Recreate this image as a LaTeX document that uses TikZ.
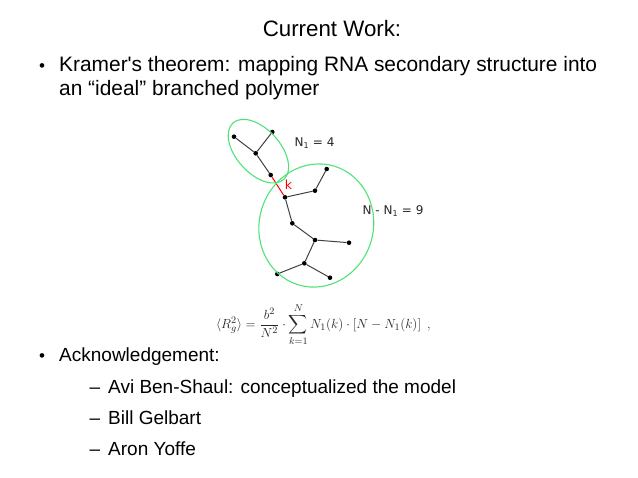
\documentclass[tikz,border=0pt]{standalone}
\usepackage{fontspec}
\usepackage{amsmath}
\setmainfont{Liberation Sans}
\newfontfamily\labelfont{DejaVu Sans}
\definecolor{loopgreen}{RGB}{80,226,120}

\begin{document}
\begin{tikzpicture}[x=1pt,y=-1pt,
  bead/.style={circle,fill=black,inner sep=0pt,minimum size=4.6pt},
  bond/.style={draw=black!75,line width=1pt},
  ring/.style={draw=loopgreen,line width=1.1pt},
  treelabel/.style={font=\labelfont\fontsize{12}{14}\selectfont,text=black!85,inner sep=0pt},
  maintext/.style={anchor=base west,inner sep=0pt,font=\fontsize{20.9}{24}\selectfont},
  subtext/.style={anchor=base west,inner sep=0pt,font=\fontsize{19}{23}\selectfont},
  bulletmark/.style={anchor=base,inner sep=0pt}]
  \useasboundingbox (0,0) rectangle (638,478);

  \node[anchor=base,inner sep=0pt,font=\fontsize{22.3}{26}\selectfont] (title) at (332,36.5) {Current Work:};

  \node[bulletmark,font=\fontsize{17}{18}\selectfont] (b1) at (42,71.5) {•};
  \node[maintext] (kramer) at (59,71.5) {Kramer\textquotesingle s theorem: mapping RNA secondary structure into};
  \node[maintext] (kramer2) at (59,96) {an “ideal” branched polymer};

  % tree
  \node[bead] (a1) at (234,136.7) {};
  \node[bead] (a2) at (272.3,132) {};
  \node[bead] (a3) at (255.7,153.3) {};
  \node[bead] (a4) at (270.7,175) {};
  \node[bead] (c1) at (285,197.3) {};
  \node[bead] (c2) at (315,190.7) {};
  \node[bead] (c3) at (326.7,169) {};
  \node[bead] (c4) at (292.3,223.3) {};
  \node[bead] (c5) at (315,240) {};
  \node[bead] (c6) at (349,242.7) {};
  \node[bead] (c7) at (304.3,263.3) {};
  \node[bead] (c8) at (277.3,274) {};
  \node[bead] (c9) at (330,277.7) {};
  \draw[bond] (a1) -- (a3) -- (a4);
  \draw[bond] (a2) -- (a3);
  \draw[red,line width=1pt] (a4) -- (c1);
  \draw[bond] (c1) -- (c2) -- (c3);
  \draw[bond] (c1) -- (c4) -- (c5) -- (c6);
  \draw[bond] (c5) -- (c7) -- (c8);
  \draw[bond] (c7) -- (c9);
  \draw[ring,rotate around={-48:(258.4,151.2)}] (258.4,151.2) ellipse (38 and 22);
  \draw[ring,rotate around={73:(316.3,225.5)}] (316.3,225.5) ellipse (62 and 57);
  \node[red,font=\labelfont\fontsize{12.5}{13}\selectfont,inner sep=0pt] (cut) at (288.5,184.5) {k};
  \node[treelabel] (n1) at (314.5,143) {N\textsubscript{1} = 4};
  \node[treelabel] (n2) at (393,211) {N - N\textsubscript{1} = 9};

  \node[text=black!85,inner sep=0pt,scale=1.1,font=\fontsize{12.5}{15}\selectfont] (rg) at (323.4,325)
    {$\displaystyle \langle R_g^2\rangle = \frac{b^2}{N^2}\cdot\sum_{k=1}^{N} N_1(k)\cdot\left[N-N_1(k)\right]\ ,$};

  \node[bulletmark,font=\fontsize{17}{18}\selectfont] (b2) at (42,361.5) {•};
  \node[maintext,font=\fontsize{19}{23}\selectfont] (ack) at (59,361.5) {Acknowledgement:};
  \node[bulletmark,font=\fontsize{19}{23}\selectfont] (d1) at (95,393.5) {–};
  \node[subtext] (avi) at (108,393.5) {Avi Ben-Shaul: conceptualized the model};
  \node[bulletmark,font=\fontsize{19}{23}\selectfont] (d2) at (95,425) {–};
  \node[subtext] (bill) at (108,425) {Bill Gelbart};
  \node[bulletmark,font=\fontsize{19}{23}\selectfont] (d3) at (95,456) {–};
  \node[subtext] (aron) at (108,456) {Aron Yoffe};
\end{tikzpicture}
\end{document}
